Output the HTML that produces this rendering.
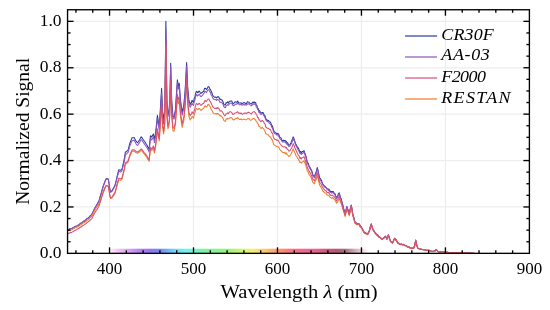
<!DOCTYPE html><html><head><meta charset="utf-8"><style>html,body{margin:0;padding:0;background:#fff;}svg{display:block;}text{font-family:"Liberation Serif",serif;fill:#000;}</style></head><body>
<svg width="550" height="310" viewBox="0 0 550 310">
<defs><linearGradient id="sp" x1="110.38" x2="368.17" y1="0" y2="0" gradientUnits="userSpaceOnUse"><stop offset="0.0000" stop-color="#ffffff"/>
<stop offset="0.0033" stop-color="#fde8fa"/>
<stop offset="0.0293" stop-color="#f4c4f4"/>
<stop offset="0.0619" stop-color="#e0a8f4"/>
<stop offset="0.0945" stop-color="#c890f4"/>
<stop offset="0.1270" stop-color="#a87af4"/>
<stop offset="0.1596" stop-color="#8c78f4"/>
<stop offset="0.1922" stop-color="#7888f4"/>
<stop offset="0.2085" stop-color="#70a0f4"/>
<stop offset="0.2248" stop-color="#6cb8f4"/>
<stop offset="0.2573" stop-color="#6ce0f4"/>
<stop offset="0.2899" stop-color="#70f4ec"/>
<stop offset="0.3225" stop-color="#70f4d0"/>
<stop offset="0.3550" stop-color="#78f4b0"/>
<stop offset="0.3876" stop-color="#80f49c"/>
<stop offset="0.4202" stop-color="#8cf488"/>
<stop offset="0.4528" stop-color="#98f47c"/>
<stop offset="0.4853" stop-color="#b8f474"/>
<stop offset="0.5179" stop-color="#d8f470"/>
<stop offset="0.5505" stop-color="#f4f070"/>
<stop offset="0.5831" stop-color="#fcd870"/>
<stop offset="0.6156" stop-color="#fcb870"/>
<stop offset="0.6482" stop-color="#fc9c74"/>
<stop offset="0.6808" stop-color="#fc8078"/>
<stop offset="0.7134" stop-color="#fc6c88"/>
<stop offset="0.7459" stop-color="#f86490"/>
<stop offset="0.7785" stop-color="#ec6490"/>
<stop offset="0.8111" stop-color="#e06088"/>
<stop offset="0.8436" stop-color="#c85880"/>
<stop offset="0.8762" stop-color="#b05878"/>
<stop offset="0.9088" stop-color="#a86880"/>
<stop offset="0.9414" stop-color="#c8a0b0"/>
<stop offset="0.9739" stop-color="#e8d0d8"/>
<stop offset="1.0000" stop-color="#ffffff"/></linearGradient>
<clipPath id="ax"><rect x="67.55" y="9.75" width="461.85" height="243.60"/></clipPath></defs>
<rect width="550" height="310" fill="#fff"/>
<g stroke="#ededed" stroke-width="1.25"><line x1="109.54" y1="9.75" x2="109.54" y2="253.35"/><line x1="193.51" y1="9.75" x2="193.51" y2="253.35"/><line x1="277.48" y1="9.75" x2="277.48" y2="253.35"/><line x1="361.45" y1="9.75" x2="361.45" y2="253.35"/><line x1="445.43" y1="9.75" x2="445.43" y2="253.35"/><line x1="67.55" y1="206.95" x2="529.4" y2="206.95"/><line x1="67.55" y1="160.55" x2="529.4" y2="160.55"/><line x1="67.55" y1="114.15" x2="529.4" y2="114.15"/><line x1="67.55" y1="67.75" x2="529.4" y2="67.75"/><line x1="67.55" y1="21.35" x2="529.4" y2="21.35"/></g>
<rect x="110.38" y="248.71" width="257.80" height="4.64" fill="url(#sp)"/>
<g clip-path="url(#ax)" fill="none" stroke-width="1.05" stroke-linejoin="round">
<polyline stroke="#263b9c" points="63.35,232.24 64.19,231.82 65.03,231.40 65.87,230.99 66.71,230.57 67.55,230.15 68.39,229.50 69.23,229.37 70.07,228.76 70.76,228.66 71.45,228.66 72.15,228.27 72.84,227.83 73.62,227.41 74.39,226.93 75.17,226.32 75.95,226.21 76.87,225.89 77.79,225.31 78.72,224.98 79.64,224.12 80.40,223.24 81.15,223.31 81.91,222.56 82.67,222.03 83.59,221.24 84.51,221.21 85.44,219.92 86.36,219.48 87.12,218.33 87.87,218.47 88.63,217.45 89.38,216.93 90.22,215.67 91.06,215.30 91.90,214.00 92.74,212.52 93.62,210.70 94.51,208.57 95.32,207.28 96.13,205.96 96.94,204.63 97.74,203.10 98.54,201.85 99.21,200.13 99.88,197.67 100.64,195.16 101.39,192.57 102.31,189.22 103.24,186.07 104.04,183.87 104.83,181.66 105.51,180.17 106.18,178.65 106.88,178.64 107.58,178.69 108.28,179.11 109.12,183.75 109.79,188.85 110.63,191.87 111.34,191.28 112.06,190.71 112.90,189.09 113.60,187.92 114.29,186.51 114.99,185.14 115.62,182.53 116.25,180.27 117.09,176.33 117.93,173.08 118.77,169.83 119.61,170.04 120.45,170.29 121.12,169.92 121.80,169.60 122.47,167.01 123.14,164.03 123.81,161.00 124.48,158.23 125.32,152.20 126.00,151.74 126.67,151.50 127.34,150.61 128.01,150.11 128.68,147.95 129.35,145.15 130.03,142.69 130.70,141.32 131.37,139.41 132.04,137.81 132.74,137.76 133.44,137.74 134.14,137.58 134.81,138.80 135.48,139.90 136.18,141.36 136.88,142.01 137.58,142.69 138.26,141.76 138.93,140.78 139.60,139.90 140.40,138.17 141.19,136.89 142.08,137.90 142.96,139.21 143.63,140.04 144.30,141.29 144.97,141.99 145.67,143.24 146.37,144.28 147.07,145.24 147.74,146.80 148.42,147.63 149.09,149.41 149.76,142.25 150.43,135.73 151.10,135.99 151.77,137.12 152.57,135.48 153.37,133.87 153.92,136.48 154.46,139.90 155.18,135.55 155.89,130.39 156.65,122.85 157.40,115.31 157.95,118.79 158.49,122.27 159.25,126.91 159.79,118.21 160.34,109.51 160.97,98.84 161.60,88.17 162.10,100.00 162.61,111.83 163.11,115.89 163.61,119.95 164.20,114.73 164.79,109.51 165.34,65.43 165.88,21.35 166.39,60.79 166.89,100.23 167.39,107.19 167.90,114.15 168.40,112.76 168.91,111.37 169.37,105.80 169.83,100.23 170.67,63.34 171.17,81.79 171.68,100.23 172.31,108.35 172.94,116.47 173.48,116.70 174.03,116.93 174.74,113.22 175.45,109.51 176.10,99.61 176.74,89.71 177.39,79.81 177.89,83.06 178.39,86.31 179.23,83.29 179.86,91.76 180.49,100.23 181.33,106.38 182.17,112.53 183.01,108.70 183.85,104.87 184.48,97.91 185.11,90.95 185.87,76.68 186.62,62.41 187.13,74.36 187.63,86.31 188.26,93.27 188.89,100.23 189.52,102.32 190.15,104.41 190.79,103.01 191.44,102.49 192.08,100.23 192.80,101.48 193.51,102.32 194.20,98.71 194.89,97.12 195.59,93.58 196.28,91.41 196.95,91.62 197.62,92.81 198.30,92.29 198.97,91.04 199.64,91.41 200.31,93.07 200.98,93.50 201.65,92.45 202.33,92.49 203.00,91.41 203.70,91.41 204.40,88.76 205.10,88.17 205.77,88.50 206.44,89.56 207.25,88.52 208.06,86.74 208.88,86.77 209.67,88.52 210.47,89.56 211.17,91.36 211.87,92.65 212.57,94.89 213.47,96.55 214.36,97.20 215.26,96.98 215.95,97.32 216.64,97.98 217.34,96.77 218.03,96.98 218.70,96.75 219.37,98.37 220.04,99.56 220.72,99.20 221.39,99.77 222.23,100.28 223.07,102.03 223.91,104.35 224.75,105.10 225.42,104.86 226.09,102.64 226.76,103.01 227.59,101.87 228.41,103.14 229.23,101.56 230.05,101.25 230.88,100.93 231.77,100.99 232.67,103.43 233.56,103.71 234.39,102.53 235.21,101.86 236.03,101.90 236.86,102.38 237.68,100.93 238.57,102.81 239.47,103.04 240.37,103.01 241.10,102.87 241.84,103.95 242.58,103.80 243.32,102.66 244.06,102.55 244.88,103.11 245.71,103.41 246.53,103.46 247.35,101.68 248.18,102.09 249.07,102.24 249.97,103.58 250.86,103.71 251.53,104.00 252.21,102.66 252.88,102.09 253.55,102.47 254.22,101.76 254.89,102.78 255.56,102.45 256.24,104.72 256.91,105.57 257.61,108.39 258.31,108.59 259.01,110.90 259.68,110.79 260.35,112.04 261.02,112.99 261.69,112.73 262.37,112.56 263.04,112.53 263.71,114.04 264.38,115.08 265.08,115.88 265.78,118.53 266.48,119.25 267.15,119.94 267.82,120.57 268.50,120.41 269.39,121.71 270.29,121.99 271.18,123.89 271.65,125.59 272.11,125.52 272.78,127.20 273.45,130.00 274.12,131.55 274.82,132.08 275.52,132.84 276.22,132.94 276.89,134.11 277.57,133.50 278.24,133.64 278.91,134.77 279.58,136.85 280.25,137.58 280.95,137.65 281.64,139.95 282.33,140.40 283.02,140.37 283.70,140.31 284.37,140.86 285.04,140.37 285.71,141.56 286.38,141.36 287.05,142.92 287.75,142.67 288.45,145.18 289.15,145.01 289.83,144.79 290.50,143.51 291.17,142.45 291.84,140.41 292.51,138.71 293.18,136.89 293.86,138.32 294.53,140.39 295.20,142.45 295.90,144.45 296.60,145.19 297.30,147.09 297.97,147.66 298.64,148.57 299.31,150.57 299.99,152.08 300.66,151.47 301.33,153.13 302.23,151.41 303.12,151.36 304.02,150.57 304.65,152.67 305.28,154.05 305.95,156.38 306.62,159.07 307.29,162.17 308.22,163.28 309.14,165.90 310.06,167.51 310.96,169.16 311.85,170.96 312.75,174.47 313.63,175.84 314.51,176.33 315.41,173.60 316.31,171.55 317.20,167.51 317.98,170.11 318.77,174.26 319.55,177.72 320.45,178.68 321.34,180.22 322.24,182.59 322.93,184.50 323.62,185.07 324.32,185.95 325.01,186.30 325.93,187.36 326.86,188.36 327.78,188.85 328.68,189.21 329.57,190.19 330.47,191.41 331.17,191.42 331.87,191.68 332.57,191.41 333.24,191.47 333.91,192.80 334.81,193.51 335.70,195.87 336.60,197.67 337.49,196.42 338.39,193.67 339.29,192.80 340.21,196.75 341.13,198.62 342.06,202.31 342.83,204.98 343.61,208.92 344.39,210.90 345.16,213.91 346.00,210.05 346.84,206.49 347.66,209.05 348.47,211.05 349.28,213.91 349.92,210.72 350.57,207.32 351.21,205.09 351.88,208.41 352.55,212.58 353.23,215.77 353.87,217.66 354.51,220.99 355.16,222.49 355.86,222.62 356.56,223.18 357.26,223.89 357.93,223.55 358.60,223.73 359.27,223.89 360.17,225.53 361.06,226.70 361.96,228.06 362.85,229.50 363.75,231.53 364.65,232.70 365.40,232.63 366.16,233.30 366.91,233.31 367.67,234.09 368.28,232.81 368.90,231.57 369.52,230.15 370.40,226.43 371.28,223.89 372.08,226.48 372.87,228.76 373.60,230.35 374.33,231.06 375.06,232.70 375.90,233.49 376.74,234.67 377.58,234.87 378.42,236.18 379.28,237.07 380.14,237.28 381.00,238.19 381.86,238.97 382.72,238.48 383.58,238.08 384.44,237.05 385.30,236.18 386.10,237.18 386.90,238.97 387.65,236.70 388.41,234.79 389.17,237.25 389.92,239.63 390.68,241.52 391.52,241.88 392.36,242.91 393.14,241.76 393.92,239.39 394.71,238.27 395.42,239.38 396.14,239.59 396.85,241.11 397.56,242.21 398.21,243.46 398.85,243.34 399.49,244.30 400.25,244.24 401.01,244.07 401.76,244.11 402.52,244.64 403.27,244.30 404.05,244.89 404.83,245.31 405.60,245.51 406.38,245.69 407.28,246.59 408.19,247.18 409.09,246.93 409.99,247.78 410.89,248.52 411.80,248.07 412.70,248.13 413.60,248.25 414.15,246.97 414.69,245.69 415.20,242.91 415.70,240.13 416.20,242.45 416.71,244.77 417.25,246.51 417.80,248.25 418.56,248.48 419.31,248.71 420.07,248.94 420.82,249.17 421.68,249.33 422.53,249.48 423.38,249.64 424.24,249.79 425.09,249.95 425.95,250.10 426.72,250.16 427.50,250.22 428.28,250.28 429.05,250.33 429.83,250.62 430.61,250.91 431.38,251.20 432.16,251.49 432.94,251.32 433.71,251.15 434.49,250.97 435.27,250.80 435.77,250.10 436.27,249.41 436.86,250.22 437.45,251.03 438.09,251.42 438.74,251.80 439.38,252.19 440.16,252.02 440.93,251.84 441.71,251.67 442.49,251.49 443.38,251.73 444.28,251.96 445.18,252.19 446.08,252.25 446.98,252.31 447.88,252.36 448.79,252.42 449.69,252.45 450.59,252.48 451.49,252.51 452.40,252.54 453.30,252.57 454.20,252.60 455.11,252.62 456.01,252.65 456.88,252.68 457.76,252.71 458.64,252.73 459.52,252.76 460.39,252.78 461.27,252.81 462.15,252.83 463.02,252.86 463.90,252.89 464.74,252.92 465.58,252.96 466.42,252.99 467.26,253.03 468.10,253.06 468.94,253.09 469.78,253.13 470.62,253.16 471.46,253.20 472.30,253.23 473.14,253.31 473.98,253.38 474.82,253.45 475.66,253.52 476.50,253.60 477.34,253.67 478.18,253.74 479.02,253.81"/>
<polyline stroke="#9052be" points="63.35,232.25 64.19,231.83 65.03,231.42 65.87,231.00 66.71,230.58 67.55,230.17 68.39,229.41 69.23,229.29 70.07,228.78 70.76,228.68 71.45,228.57 72.15,228.34 72.84,227.86 73.62,227.56 74.39,226.88 75.17,226.43 75.95,226.25 76.87,225.97 77.79,225.51 78.72,224.97 79.64,224.18 80.40,223.26 81.15,223.19 81.91,222.66 82.67,222.10 83.59,221.03 84.51,221.34 85.44,220.13 86.36,219.57 87.12,218.80 87.87,218.52 88.63,217.80 89.38,217.04 90.22,216.10 91.06,215.42 91.90,214.25 92.74,212.65 93.62,210.79 94.51,208.73 95.32,207.41 96.13,206.12 96.94,204.81 97.74,203.51 98.54,202.05 99.21,200.19 99.88,197.90 100.64,195.49 101.39,192.82 102.31,189.62 103.24,186.36 104.04,184.20 104.83,181.99 105.51,180.58 106.18,178.99 106.88,178.97 107.58,179.00 108.28,179.47 109.12,184.10 109.79,189.20 110.63,192.28 111.34,191.86 112.06,191.26 112.90,189.73 113.60,188.58 114.29,187.34 114.99,186.04 115.62,183.54 116.25,181.37 117.09,177.58 117.93,174.58 118.77,171.40 119.61,171.46 120.45,172.00 121.12,171.84 121.80,171.38 122.47,168.69 123.14,166.00 123.81,163.09 124.48,160.41 125.32,154.56 126.00,154.35 126.67,153.95 127.34,152.88 128.01,152.59 128.68,150.38 129.35,147.41 130.03,145.34 130.70,143.79 131.37,142.39 132.04,140.59 132.74,140.47 133.44,140.28 134.14,140.36 134.81,141.59 135.48,142.62 136.18,144.06 136.88,144.82 137.58,145.34 138.26,144.47 138.93,143.31 139.60,142.62 140.40,140.83 141.19,139.68 142.08,140.38 142.96,141.95 143.63,142.69 144.30,143.95 144.97,144.66 145.67,145.98 146.37,146.80 147.07,147.83 147.74,149.36 148.42,150.29 149.09,151.91 149.76,145.11 150.43,138.55 151.10,138.79 151.77,139.91 152.57,138.37 153.37,136.74 153.92,139.46 154.46,142.65 155.18,138.34 155.89,133.39 156.65,126.05 157.40,118.71 157.95,122.11 158.49,125.52 159.25,130.06 159.79,121.59 160.34,113.21 160.97,102.98 161.60,92.77 162.10,104.40 162.61,116.01 163.11,120.07 163.61,124.12 164.20,119.21 164.79,114.30 165.34,71.86 165.88,29.32 166.39,66.63 166.89,104.26 167.39,110.45 167.90,116.70 168.40,114.87 168.91,113.51 169.37,108.04 169.83,102.57 170.67,66.28 171.17,84.46 171.68,102.63 172.31,110.64 172.94,118.65 173.48,118.89 174.03,119.13 174.74,115.50 175.45,111.87 176.10,102.15 176.74,92.44 177.39,82.73 177.89,85.94 178.39,89.15 179.23,86.21 179.86,94.56 180.49,102.90 181.33,108.96 182.17,115.03 183.01,111.29 183.85,107.56 184.48,100.74 185.11,93.93 185.87,79.95 186.62,65.97 187.13,77.72 187.63,89.46 188.26,96.30 188.89,103.15 189.52,105.22 190.15,107.29 190.79,105.94 191.44,105.01 192.08,103.25 192.80,104.87 193.51,105.34 194.20,101.80 194.89,99.85 195.59,96.84 196.28,94.60 196.95,94.86 197.62,95.94 198.30,95.23 198.97,94.19 199.64,94.53 200.31,96.24 200.98,96.56 201.65,96.14 202.33,95.45 203.00,94.47 203.70,93.71 204.40,92.33 205.10,91.24 205.77,91.70 206.44,92.58 207.25,91.03 208.06,89.71 208.88,89.80 209.67,91.63 210.47,92.50 211.17,94.98 211.87,95.63 212.57,97.70 213.47,98.97 214.36,99.43 215.26,99.70 215.95,99.38 216.64,100.45 217.34,99.52 218.03,99.65 218.70,100.13 219.37,101.00 220.04,102.40 220.72,102.30 221.39,102.33 222.23,103.03 223.07,104.36 223.91,106.88 224.75,107.52 225.42,107.74 226.09,105.73 226.76,105.43 227.59,104.61 228.41,105.23 229.23,104.21 230.05,103.24 230.88,103.19 231.77,103.18 232.67,105.00 233.56,105.82 234.39,105.40 235.21,104.41 236.03,103.84 236.86,104.33 237.68,102.88 238.57,103.92 239.47,104.80 240.37,104.83 241.10,103.97 241.84,105.16 242.58,104.95 243.32,105.00 244.06,104.21 244.88,105.08 245.71,104.39 246.53,105.10 247.35,104.25 248.18,103.75 249.07,104.11 249.97,104.85 250.86,105.36 251.53,105.84 252.21,104.97 252.88,103.75 253.55,104.27 254.22,103.60 254.89,104.44 255.56,104.40 256.24,106.98 256.91,107.19 257.61,109.37 258.31,110.24 259.01,112.47 259.68,112.36 260.35,114.11 261.02,114.53 261.69,113.83 262.37,113.20 263.04,114.08 263.71,115.21 264.38,116.60 265.08,117.66 265.78,120.19 266.48,120.73 267.15,121.53 267.82,121.84 268.50,121.88 269.39,123.62 270.29,123.99 271.18,125.38 271.65,127.28 272.11,127.02 272.78,128.79 273.45,131.52 274.12,133.04 274.82,133.47 275.52,133.86 276.22,134.47 276.89,135.23 277.57,134.49 278.24,135.20 278.91,136.61 279.58,138.12 280.25,139.11 280.95,139.18 281.64,140.69 282.33,141.76 283.02,141.87 283.70,141.77 284.37,142.13 285.04,141.89 285.71,142.99 286.38,143.37 287.05,144.42 287.75,145.04 288.45,146.01 289.15,146.49 289.83,146.25 290.50,145.09 291.17,143.99 291.84,142.45 292.51,140.98 293.18,138.51 293.86,140.45 294.53,141.09 295.20,144.01 295.90,145.66 296.60,146.43 297.30,148.60 297.97,149.40 298.64,150.49 299.31,152.04 299.99,153.58 300.66,153.61 301.33,154.57 302.23,153.50 303.12,152.82 304.02,152.07 304.65,154.07 305.28,155.51 305.95,157.54 306.62,160.34 307.29,163.52 308.22,164.70 309.14,167.19 310.06,168.79 310.96,169.90 311.85,172.34 312.75,175.65 313.63,177.04 314.51,177.48 315.41,174.58 316.31,172.71 317.20,168.80 317.98,171.01 318.77,174.71 319.55,178.85 320.45,180.38 321.34,181.57 322.24,183.65 322.93,184.77 323.62,185.47 324.32,187.08 325.01,187.31 325.93,187.77 326.86,189.35 327.78,189.82 328.68,190.47 329.57,191.93 330.47,192.34 331.17,192.49 331.87,193.24 332.57,192.34 333.24,192.36 333.91,193.71 334.81,194.59 335.70,196.49 336.60,198.49 337.49,197.01 338.39,194.92 339.29,193.57 340.21,197.49 341.13,199.11 342.06,202.86 342.83,205.65 343.61,208.46 344.39,211.23 345.16,214.24 346.00,210.43 346.84,206.82 347.66,209.30 348.47,211.24 349.28,214.12 349.92,211.62 350.57,207.35 351.21,205.34 351.88,208.36 352.55,213.29 353.23,215.95 353.87,217.76 354.51,220.26 355.16,222.65 355.86,222.95 356.56,223.22 357.26,224.03 357.93,223.85 358.60,223.76 359.27,224.03 360.17,225.81 361.06,226.75 361.96,228.19 362.85,230.09 363.75,231.68 364.65,232.81 365.40,233.03 366.16,233.62 366.91,233.71 367.67,234.19 368.28,232.96 368.90,231.76 369.52,230.27 370.40,226.62 371.28,224.03 372.08,227.04 372.87,228.88 373.60,230.48 374.33,231.50 375.06,232.81 375.90,233.97 376.74,234.55 377.58,234.84 378.42,236.27 379.28,236.85 380.14,237.21 381.00,238.22 381.86,239.04 382.72,238.73 383.58,238.03 384.44,237.37 385.30,236.27 386.10,237.21 386.90,239.04 387.65,236.99 388.41,234.88 389.17,237.24 389.92,239.63 390.68,241.58 391.52,241.63 392.36,242.96 393.14,241.46 393.92,239.45 394.71,238.35 395.42,239.56 396.14,239.75 396.85,241.05 397.56,242.27 398.21,243.13 398.85,243.06 399.49,244.35 400.25,244.40 401.01,244.37 401.76,244.26 402.52,244.80 403.27,244.35 404.05,245.24 404.83,245.15 405.60,245.52 406.38,245.73 407.28,246.65 408.19,247.21 409.09,246.88 409.99,247.81 410.89,248.44 411.80,248.09 412.70,248.16 413.60,248.27 414.15,247.00 414.69,245.73 415.20,242.96 415.70,240.19 416.20,242.50 416.71,244.81 417.25,246.54 417.80,248.27 418.56,248.50 419.31,248.73 420.07,248.96 420.82,249.19 421.68,249.35 422.53,249.50 423.38,249.66 424.24,249.81 425.09,249.96 425.95,250.12 426.72,250.18 427.50,250.23 428.28,250.29 429.05,250.35 429.83,250.64 430.61,250.93 431.38,251.21 432.16,251.50 432.94,251.33 433.71,251.16 434.49,250.98 435.27,250.81 435.77,250.12 436.27,249.43 436.86,250.23 437.45,251.04 438.09,251.43 438.74,251.81 439.38,252.20 440.16,252.02 440.93,251.85 441.71,251.68 442.49,251.50 443.38,251.73 444.28,251.96 445.18,252.20 446.08,252.25 446.98,252.31 447.88,252.37 448.79,252.43 449.69,252.46 450.59,252.48 451.49,252.51 452.40,252.54 453.30,252.57 454.20,252.60 455.11,252.63 456.01,252.66 456.88,252.68 457.76,252.71 458.64,252.73 459.52,252.76 460.39,252.79 461.27,252.81 462.15,252.84 463.02,252.86 463.90,252.89 464.74,252.92 465.58,252.96 466.42,252.99 467.26,253.03 468.10,253.06 468.94,253.10 469.78,253.13 470.62,253.17 471.46,253.20 472.30,253.23 473.14,253.31 473.98,253.38 474.82,253.45 475.66,253.52 476.50,253.60 477.34,253.67 478.18,253.74 479.02,253.81"/>
<polyline stroke="#f27b2a" points="63.35,233.28 64.19,232.88 65.03,232.48 65.87,232.08 66.71,231.68 67.55,231.28 68.39,230.37 69.23,230.21 70.07,229.95 70.76,229.88 71.45,229.91 72.15,229.61 72.84,229.06 73.62,228.69 74.39,228.35 75.17,227.71 75.95,227.50 76.87,227.02 77.79,226.88 78.72,226.07 79.64,225.50 80.40,224.69 81.15,224.88 81.91,224.01 82.67,223.50 83.59,222.70 84.51,222.62 85.44,221.68 86.36,221.05 87.12,220.06 87.87,220.03 88.63,219.32 89.38,218.60 90.22,217.53 91.06,217.04 91.90,215.84 92.74,214.38 93.62,212.55 94.51,210.60 95.32,209.29 96.13,208.02 96.94,206.82 97.74,205.54 98.54,204.56 99.21,202.77 99.88,200.97 100.64,198.73 101.39,196.62 102.31,193.80 103.24,191.16 104.04,189.28 104.83,187.64 105.51,186.63 106.18,185.37 106.88,185.66 107.58,185.84 108.28,186.41 109.12,190.83 109.79,195.58 110.63,198.49 111.34,198.24 112.06,197.81 112.90,196.58 113.60,195.61 114.29,194.71 114.99,193.31 115.62,191.21 116.25,189.00 117.09,185.51 117.93,182.73 118.77,179.75 119.61,179.93 120.45,180.13 121.12,179.96 121.80,179.49 122.47,177.06 123.14,174.55 123.81,171.71 124.48,169.40 125.32,164.06 126.00,163.76 126.67,163.42 127.34,162.63 128.01,162.19 128.68,160.28 129.35,157.69 130.03,155.63 130.70,154.36 131.37,152.92 132.04,151.33 132.74,151.18 133.44,151.33 134.14,151.13 134.81,151.72 135.48,152.20 136.18,152.89 136.88,153.04 137.58,153.20 138.26,152.55 138.93,152.27 139.60,151.95 140.40,150.91 141.19,150.28 142.08,151.07 142.96,152.33 143.63,152.98 144.30,154.31 144.97,154.80 145.67,155.85 146.37,156.72 147.07,157.67 147.74,159.09 148.42,160.01 149.09,161.37 149.76,155.13 150.43,149.25 151.10,149.48 151.77,150.48 152.57,149.16 153.37,147.61 153.92,150.00 154.46,152.95 155.18,148.91 155.89,144.51 156.65,137.71 157.40,130.91 157.95,133.91 158.49,136.91 159.25,140.92 159.79,133.10 160.34,125.26 160.97,115.64 161.60,106.01 162.10,116.47 162.61,126.94 163.11,130.49 163.61,134.04 164.20,129.29 164.79,124.61 165.34,85.16 165.88,45.71 166.39,81.01 166.89,116.31 167.39,122.54 167.90,128.77 168.40,127.52 168.91,126.27 169.37,121.29 169.83,116.31 170.67,83.29 171.17,99.80 171.68,116.31 172.31,123.58 172.94,130.84 173.48,131.05 174.03,131.26 174.74,127.94 175.45,124.61 176.10,115.75 176.74,106.89 177.39,98.04 177.89,100.94 178.39,103.85 179.23,101.15 179.86,108.73 180.49,116.31 181.33,121.81 182.17,127.31 183.01,123.89 183.85,120.46 184.48,114.23 185.11,108.00 185.87,95.23 186.62,82.46 187.13,93.16 187.63,103.85 188.26,110.08 188.89,116.31 189.52,118.18 190.15,120.05 190.79,118.80 191.44,118.45 192.08,116.31 192.80,117.25 193.51,118.18 194.20,115.04 194.89,113.01 195.59,110.44 196.28,108.46 196.95,108.73 197.62,109.73 198.30,109.22 198.97,108.55 199.64,108.52 200.31,109.80 200.98,110.40 201.65,109.66 202.33,109.25 203.00,108.57 203.70,108.30 204.40,106.84 205.10,105.70 205.77,106.46 206.44,106.97 207.25,106.04 208.06,104.35 208.88,104.52 209.67,106.19 210.47,107.03 211.17,109.33 211.87,110.08 212.57,111.83 213.47,113.39 214.36,113.76 215.26,113.74 215.95,113.44 216.64,114.11 217.34,113.38 218.03,113.78 218.70,114.09 219.37,115.04 220.04,116.01 220.72,115.45 221.39,116.32 222.23,117.15 223.07,118.41 223.91,120.64 224.75,121.13 225.42,121.36 226.09,118.96 226.76,119.30 227.59,118.31 228.41,118.72 229.23,118.59 230.05,117.75 230.88,117.50 231.77,117.67 232.67,119.31 233.56,120.02 234.39,119.43 235.21,118.98 236.03,118.18 236.86,118.75 237.68,117.60 238.57,118.69 239.47,119.48 240.37,119.50 241.10,118.81 241.84,119.72 242.58,119.80 243.32,119.53 244.06,119.14 244.88,119.49 245.71,119.79 246.53,119.74 247.35,118.84 248.18,118.73 249.07,118.60 249.97,120.09 250.86,120.17 251.53,119.89 252.21,119.19 252.88,118.73 253.55,118.39 254.22,118.62 254.89,119.34 255.56,119.71 256.24,121.59 256.91,121.82 257.61,123.83 258.31,124.11 259.01,126.57 259.68,126.40 260.35,127.89 261.02,128.43 261.69,128.08 262.37,127.34 263.04,128.02 263.71,128.67 264.38,130.29 265.08,131.34 265.78,133.70 266.48,134.00 267.15,134.39 267.82,134.71 268.50,135.04 269.39,136.78 270.29,136.70 271.18,138.13 271.65,139.60 272.11,139.58 272.78,141.09 273.45,144.13 274.12,144.95 274.82,145.27 275.52,145.86 276.22,146.19 276.89,146.62 277.57,146.80 278.24,146.77 278.91,147.45 279.58,149.08 280.25,150.17 280.95,150.55 281.64,151.45 282.33,152.20 283.02,152.51 283.70,152.40 284.37,153.02 285.04,152.41 285.71,153.95 286.38,153.05 287.05,154.59 287.75,154.88 288.45,156.33 289.15,156.36 289.83,156.05 290.50,154.74 291.17,153.97 291.84,152.35 292.51,150.62 293.18,148.88 293.86,150.88 294.53,151.54 295.20,153.78 295.90,155.68 296.60,155.93 297.30,157.84 297.97,158.76 298.64,159.87 299.31,160.88 299.99,162.62 300.66,161.96 301.33,163.08 302.23,162.00 303.12,161.60 304.02,160.66 304.65,162.57 305.28,163.74 305.95,165.91 306.62,168.19 307.29,170.99 308.22,172.22 309.14,174.76 310.06,175.70 310.96,176.97 311.85,179.51 312.75,181.99 313.63,183.15 314.51,183.69 315.41,180.65 316.31,179.39 317.20,175.76 317.98,178.38 318.77,181.70 319.55,185.02 320.45,186.32 321.34,188.04 322.24,189.46 322.93,191.18 323.62,191.47 324.32,192.67 325.01,192.85 325.93,193.33 326.86,194.74 327.78,195.18 328.68,195.31 329.57,196.62 330.47,197.51 331.17,197.70 331.87,198.51 332.57,197.54 333.24,197.96 333.91,198.81 334.81,199.93 335.70,201.48 336.60,203.22 337.49,202.47 338.39,200.01 339.29,198.46 340.21,201.32 341.13,203.45 342.06,206.40 342.83,208.84 343.61,211.32 344.39,214.11 345.16,216.48 346.00,212.96 346.84,209.15 347.66,211.50 348.47,212.89 349.28,215.69 349.92,212.77 350.57,209.61 351.21,206.82 351.88,209.77 352.55,214.74 353.23,217.08 353.87,219.25 354.51,221.51 355.16,223.57 355.86,224.04 356.56,224.60 357.26,224.92 357.93,224.52 358.60,223.85 359.27,224.92 360.17,226.97 361.06,227.29 361.96,228.95 362.85,230.52 363.75,232.37 364.65,233.42 365.40,233.34 366.16,234.22 366.91,233.90 367.67,234.77 368.28,233.66 368.90,232.18 369.52,230.96 370.40,227.41 371.28,224.92 372.08,227.64 372.87,229.62 373.60,231.20 374.33,231.97 375.06,233.42 375.90,234.23 376.74,235.44 377.58,235.60 378.42,236.78 379.28,237.41 380.14,237.55 381.00,238.82 381.86,239.47 382.72,239.08 383.58,238.30 384.44,237.77 385.30,236.78 386.10,237.94 386.90,239.47 387.65,237.42 388.41,235.44 389.17,237.95 389.92,239.82 390.68,241.93 391.52,242.26 392.36,243.28 393.14,242.08 393.92,240.09 394.71,238.80 395.42,240.19 396.14,240.07 396.85,241.53 397.56,242.60 398.21,243.53 398.85,243.35 399.49,244.62 400.25,244.88 401.01,244.19 401.76,244.40 402.52,244.98 403.27,244.62 404.05,245.27 404.83,245.81 405.60,245.79 406.38,245.96 407.28,247.04 408.19,247.36 409.09,247.27 409.99,247.98 410.89,248.68 411.80,248.13 412.70,248.31 413.60,248.42 414.15,247.19 414.69,245.96 415.20,243.28 415.70,240.59 416.20,242.83 416.71,245.07 417.25,246.75 417.80,248.42 418.56,248.65 419.31,248.87 420.07,249.10 420.82,249.32 421.68,249.47 422.53,249.62 423.38,249.77 424.24,249.92 425.09,250.07 425.95,250.22 426.72,250.27 427.50,250.33 428.28,250.38 429.05,250.44 429.83,250.72 430.61,251.00 431.38,251.28 432.16,251.56 432.94,251.39 433.71,251.22 434.49,251.06 435.27,250.89 435.77,250.22 436.27,249.54 436.86,250.33 437.45,251.11 438.09,251.48 438.74,251.86 439.38,252.23 440.16,252.06 440.93,251.89 441.71,251.73 442.49,251.56 443.38,251.78 444.28,252.01 445.18,252.23 446.08,252.29 446.98,252.34 447.88,252.40 448.79,252.45 449.69,252.48 450.59,252.51 451.49,252.54 452.40,252.57 453.30,252.59 454.20,252.62 455.11,252.65 456.01,252.68 456.88,252.70 457.76,252.73 458.64,252.75 459.52,252.78 460.39,252.80 461.27,252.83 462.15,252.85 463.02,252.88 463.90,252.90 464.74,252.94 465.58,252.97 466.42,253.00 467.26,253.04 468.10,253.07 468.94,253.10 469.78,253.14 470.62,253.17 471.46,253.20 472.30,253.24 473.14,253.31 473.98,253.38 474.82,253.45 475.66,253.52 476.50,253.59 477.34,253.66 478.18,253.73 479.02,253.80"/>
<polyline stroke="#d74f74" points="63.35,236.14 64.19,235.74 65.03,235.33 65.87,234.92 66.71,234.51 67.55,234.09 68.39,233.29 69.23,233.25 70.07,232.70 70.76,232.27 71.45,232.60 72.15,232.14 72.84,231.65 73.62,231.25 74.39,230.60 75.17,230.30 75.95,229.95 76.87,229.34 77.79,228.94 78.72,228.54 79.64,227.76 80.40,226.98 81.15,227.13 81.91,226.35 82.67,225.79 83.59,225.09 84.51,224.70 85.44,223.93 86.36,223.36 87.12,222.31 87.87,222.21 88.63,221.37 89.38,220.93 90.22,220.03 91.06,219.39 91.90,218.49 92.74,216.81 93.62,214.96 94.51,213.22 95.32,211.98 96.13,210.61 96.94,209.59 97.74,208.37 98.54,207.03 99.21,205.30 99.88,203.22 100.64,200.73 101.39,198.56 102.31,195.66 103.24,192.61 104.04,190.74 104.83,188.54 105.51,187.36 106.18,185.74 106.88,185.68 107.58,185.90 108.28,186.24 109.12,190.46 109.79,195.10 110.63,197.85 111.34,197.41 112.06,196.84 112.90,195.41 113.60,194.23 114.29,193.17 114.99,191.92 115.62,189.82 116.25,187.58 117.09,184.06 117.93,181.22 118.77,178.29 119.61,178.33 120.45,178.77 121.12,178.69 121.80,178.20 122.47,175.81 123.14,173.27 123.81,170.56 124.48,168.13 125.32,162.77 126.00,162.48 126.67,162.20 127.34,161.41 128.01,160.95 128.68,158.91 129.35,156.32 130.03,154.31 130.70,152.75 131.37,151.50 132.04,149.95 132.74,149.74 133.44,149.91 134.14,149.74 134.81,150.38 135.48,150.93 136.18,151.74 136.88,151.80 137.58,152.09 138.26,151.51 138.93,151.01 139.60,150.68 140.40,149.69 141.19,148.88 142.08,149.47 142.96,150.92 143.63,151.66 144.30,152.90 144.97,153.37 145.67,154.42 146.37,155.10 147.07,156.24 147.74,157.51 148.42,158.39 149.09,159.95 149.76,153.66 150.43,147.62 151.10,147.97 151.77,148.84 152.57,147.47 153.37,145.88 153.92,148.27 154.46,151.28 155.18,147.06 155.89,142.65 156.65,135.68 157.40,128.70 157.95,131.71 158.49,134.73 159.25,138.76 159.79,130.74 160.34,122.71 160.97,112.84 161.60,102.95 162.10,113.58 162.61,124.24 163.11,127.82 163.61,131.41 164.20,126.51 164.79,121.71 165.34,81.35 165.88,40.97 166.39,77.05 166.89,113.14 167.39,119.50 167.90,125.86 168.40,124.56 168.91,123.27 169.37,118.16 169.83,113.04 170.67,79.20 171.17,96.08 171.68,112.97 172.31,120.39 172.94,127.82 173.48,128.01 174.03,128.21 174.74,124.78 175.45,121.35 176.10,112.24 176.74,103.13 177.39,94.02 177.89,96.98 178.39,99.94 179.23,97.14 179.86,104.89 180.49,112.65 181.33,118.27 182.17,123.89 183.01,120.34 183.85,116.79 184.48,110.37 185.11,103.94 185.87,90.74 186.62,77.52 187.13,88.47 187.63,99.42 188.26,105.78 188.89,112.14 189.52,114.00 190.15,115.87 190.79,114.53 191.44,114.05 192.08,111.84 192.80,113.04 193.51,113.65 194.20,110.72 194.89,108.33 195.59,105.47 196.28,103.51 196.95,103.69 197.62,104.78 198.30,104.23 198.97,103.30 199.64,103.46 200.31,105.00 200.98,105.37 201.65,104.54 202.33,104.25 203.00,103.41 203.70,103.46 204.40,101.22 205.10,100.36 205.77,101.18 206.44,101.63 207.25,100.03 208.06,98.96 208.88,99.01 209.67,100.93 210.47,101.57 211.17,103.21 211.87,104.90 212.57,106.48 213.47,107.26 214.36,108.19 215.26,108.37 215.95,108.01 216.64,108.62 217.34,107.48 218.03,108.33 218.70,108.00 219.37,109.60 220.04,111.14 220.72,110.83 221.39,110.86 222.23,111.60 223.07,113.02 223.91,114.73 224.75,115.76 225.42,115.57 226.09,113.73 226.76,113.79 227.59,112.83 228.41,113.65 229.23,112.27 230.05,111.66 230.88,111.79 231.77,112.57 232.67,114.35 233.56,114.34 234.39,113.44 235.21,113.01 236.03,112.76 236.86,112.47 237.68,111.69 238.57,113.16 239.47,112.90 240.37,113.59 241.10,112.83 241.84,114.04 242.58,114.33 243.32,113.49 244.06,113.09 244.88,113.37 245.71,112.90 246.53,113.78 247.35,112.82 248.18,112.39 249.07,112.31 249.97,113.08 250.86,113.72 251.53,114.10 252.21,112.57 252.88,112.07 253.55,111.84 254.22,111.57 254.89,112.58 255.56,112.80 256.24,114.67 256.91,115.05 257.61,117.54 258.31,117.48 259.01,119.91 259.68,120.03 260.35,121.36 261.02,121.74 261.69,120.74 262.37,120.43 263.04,121.18 263.71,121.74 264.38,123.49 265.08,123.91 265.78,127.13 266.48,127.29 267.15,128.34 267.82,128.22 268.50,128.26 269.39,129.55 270.29,129.36 271.18,131.38 271.65,132.71 272.11,132.86 272.78,134.03 273.45,137.55 274.12,138.43 274.82,139.30 275.52,139.51 276.22,139.63 276.89,140.53 277.57,140.15 278.24,140.24 278.91,141.79 279.58,143.14 280.25,144.00 280.95,144.74 281.64,145.82 282.33,146.07 283.02,146.67 283.70,146.96 284.37,146.77 285.04,146.71 285.71,147.87 286.38,147.30 287.05,149.15 287.75,149.10 288.45,150.79 289.15,151.15 289.83,150.71 290.50,149.61 291.17,148.78 291.84,147.40 292.51,145.73 293.18,143.56 293.86,145.10 294.53,146.59 295.20,148.85 295.90,150.14 296.60,151.22 297.30,153.25 297.97,154.52 298.64,155.32 299.31,156.56 299.99,158.45 300.66,157.48 301.33,158.99 302.23,157.67 303.12,157.36 304.02,156.63 304.65,158.81 305.28,159.93 305.95,162.56 306.62,164.75 307.29,167.59 308.22,169.28 309.14,171.44 310.06,172.65 310.96,174.39 311.85,176.32 312.75,179.20 313.63,179.78 314.51,180.95 315.41,178.16 316.31,175.71 317.20,172.66 317.98,175.52 318.77,178.53 319.55,182.26 320.45,183.48 321.34,184.49 322.24,186.84 322.93,187.79 323.62,188.86 324.32,189.60 325.01,190.32 325.93,190.54 326.86,192.33 327.78,192.72 328.68,192.50 329.57,193.98 330.47,195.12 331.17,195.22 331.87,195.58 332.57,195.12 333.24,195.79 333.91,196.43 334.81,197.53 335.70,198.95 336.60,201.01 337.49,199.81 338.39,197.64 339.29,196.16 340.21,199.87 341.13,201.56 342.06,204.67 342.83,207.53 343.61,210.54 344.39,212.72 345.16,215.32 346.00,211.85 346.84,207.90 347.66,210.24 348.47,212.01 349.28,214.78 349.92,211.87 350.57,208.08 351.21,205.84 351.88,209.14 352.55,213.87 353.23,216.33 353.87,218.63 354.51,220.58 355.16,222.96 355.86,223.39 356.56,223.88 357.26,224.33 357.93,224.04 358.60,223.61 359.27,224.33 360.17,226.87 361.06,226.61 361.96,228.44 362.85,230.19 363.75,232.10 364.65,233.01 365.40,233.21 366.16,233.59 366.91,233.93 367.67,234.38 368.28,232.92 368.90,231.88 369.52,230.50 370.40,227.12 371.28,224.33 372.08,227.12 372.87,229.13 373.60,231.00 374.33,231.77 375.06,233.01 375.90,233.94 376.74,234.88 377.58,235.05 378.42,236.44 379.28,237.45 380.14,237.49 381.00,238.27 381.86,239.18 382.72,238.89 383.58,238.29 384.44,237.26 385.30,236.44 386.10,237.52 386.90,239.18 387.65,237.29 388.41,235.07 389.17,237.55 389.92,239.72 390.68,241.70 391.52,241.81 392.36,243.07 393.14,241.65 393.92,239.58 394.71,238.50 395.42,239.84 396.14,240.19 396.85,241.31 397.56,242.38 398.21,243.52 398.85,243.36 399.49,244.44 400.25,244.48 401.01,243.98 401.76,244.25 402.52,245.02 403.27,244.44 404.05,244.92 404.83,245.35 405.60,245.87 406.38,245.81 407.28,246.61 408.19,247.26 409.09,246.91 409.99,247.87 410.89,248.31 411.80,248.28 412.70,248.21 413.60,248.32 414.15,247.07 414.69,245.81 415.20,243.07 415.70,240.32 416.20,242.61 416.71,244.89 417.25,246.61 417.80,248.32 418.56,248.55 419.31,248.78 420.07,249.01 420.82,249.24 421.68,249.39 422.53,249.54 423.38,249.69 424.24,249.85 425.09,250.00 425.95,250.15 426.72,250.21 427.50,250.26 428.28,250.32 429.05,250.38 429.83,250.66 430.61,250.95 431.38,251.24 432.16,251.52 432.94,251.35 433.71,251.18 434.49,251.01 435.27,250.84 435.77,250.15 436.27,249.47 436.86,250.26 437.45,251.06 438.09,251.45 438.74,251.83 439.38,252.21 440.16,252.04 440.93,251.86 441.71,251.69 442.49,251.52 443.38,251.75 444.28,251.98 445.18,252.21 446.08,252.26 446.98,252.32 447.88,252.38 448.79,252.44 449.69,252.46 450.59,252.49 451.49,252.52 452.40,252.55 453.30,252.58 454.20,252.61 455.11,252.64 456.01,252.66 456.88,252.69 457.76,252.72 458.64,252.74 459.52,252.77 460.39,252.79 461.27,252.82 462.15,252.84 463.02,252.87 463.90,252.89 464.74,252.93 465.58,252.96 466.42,253.00 467.26,253.03 468.10,253.06 468.94,253.10 469.78,253.13 470.62,253.17 471.46,253.20 472.30,253.24 473.14,253.31 473.98,253.38 474.82,253.45 475.66,253.52 476.50,253.59 477.34,253.66 478.18,253.74 479.02,253.81"/>
</g>
<g stroke="#000" stroke-width="1.35"><line x1="75.95" y1="253.35" x2="75.95" y2="250.35"/><line x1="75.95" y1="9.75" x2="75.95" y2="12.75"/><line x1="92.74" y1="253.35" x2="92.74" y2="250.35"/><line x1="92.74" y1="9.75" x2="92.74" y2="12.75"/><line x1="109.54" y1="253.35" x2="109.54" y2="247.35"/><line x1="109.54" y1="9.75" x2="109.54" y2="15.75"/><line x1="126.33" y1="253.35" x2="126.33" y2="250.35"/><line x1="126.33" y1="9.75" x2="126.33" y2="12.75"/><line x1="143.13" y1="253.35" x2="143.13" y2="250.35"/><line x1="143.13" y1="9.75" x2="143.13" y2="12.75"/><line x1="159.92" y1="253.35" x2="159.92" y2="250.35"/><line x1="159.92" y1="9.75" x2="159.92" y2="12.75"/><line x1="176.71" y1="253.35" x2="176.71" y2="250.35"/><line x1="176.71" y1="9.75" x2="176.71" y2="12.75"/><line x1="193.51" y1="253.35" x2="193.51" y2="247.35"/><line x1="193.51" y1="9.75" x2="193.51" y2="15.75"/><line x1="210.30" y1="253.35" x2="210.30" y2="250.35"/><line x1="210.30" y1="9.75" x2="210.30" y2="12.75"/><line x1="227.10" y1="253.35" x2="227.10" y2="250.35"/><line x1="227.10" y1="9.75" x2="227.10" y2="12.75"/><line x1="243.89" y1="253.35" x2="243.89" y2="250.35"/><line x1="243.89" y1="9.75" x2="243.89" y2="12.75"/><line x1="260.69" y1="253.35" x2="260.69" y2="250.35"/><line x1="260.69" y1="9.75" x2="260.69" y2="12.75"/><line x1="277.48" y1="253.35" x2="277.48" y2="247.35"/><line x1="277.48" y1="9.75" x2="277.48" y2="15.75"/><line x1="294.28" y1="253.35" x2="294.28" y2="250.35"/><line x1="294.28" y1="9.75" x2="294.28" y2="12.75"/><line x1="311.07" y1="253.35" x2="311.07" y2="250.35"/><line x1="311.07" y1="9.75" x2="311.07" y2="12.75"/><line x1="327.87" y1="253.35" x2="327.87" y2="250.35"/><line x1="327.87" y1="9.75" x2="327.87" y2="12.75"/><line x1="344.66" y1="253.35" x2="344.66" y2="250.35"/><line x1="344.66" y1="9.75" x2="344.66" y2="12.75"/><line x1="361.45" y1="253.35" x2="361.45" y2="247.35"/><line x1="361.45" y1="9.75" x2="361.45" y2="15.75"/><line x1="378.25" y1="253.35" x2="378.25" y2="250.35"/><line x1="378.25" y1="9.75" x2="378.25" y2="12.75"/><line x1="395.04" y1="253.35" x2="395.04" y2="250.35"/><line x1="395.04" y1="9.75" x2="395.04" y2="12.75"/><line x1="411.84" y1="253.35" x2="411.84" y2="250.35"/><line x1="411.84" y1="9.75" x2="411.84" y2="12.75"/><line x1="428.63" y1="253.35" x2="428.63" y2="250.35"/><line x1="428.63" y1="9.75" x2="428.63" y2="12.75"/><line x1="445.43" y1="253.35" x2="445.43" y2="247.35"/><line x1="445.43" y1="9.75" x2="445.43" y2="15.75"/><line x1="462.22" y1="253.35" x2="462.22" y2="250.35"/><line x1="462.22" y1="9.75" x2="462.22" y2="12.75"/><line x1="479.02" y1="253.35" x2="479.02" y2="250.35"/><line x1="479.02" y1="9.75" x2="479.02" y2="12.75"/><line x1="495.81" y1="253.35" x2="495.81" y2="250.35"/><line x1="495.81" y1="9.75" x2="495.81" y2="12.75"/><line x1="512.61" y1="253.35" x2="512.61" y2="250.35"/><line x1="512.61" y1="9.75" x2="512.61" y2="12.75"/><line x1="67.55" y1="241.75" x2="70.55" y2="241.75"/><line x1="529.4" y1="241.75" x2="526.4" y2="241.75"/><line x1="67.55" y1="230.15" x2="70.55" y2="230.15"/><line x1="529.4" y1="230.15" x2="526.4" y2="230.15"/><line x1="67.55" y1="218.55" x2="70.55" y2="218.55"/><line x1="529.4" y1="218.55" x2="526.4" y2="218.55"/><line x1="67.55" y1="206.95" x2="73.55" y2="206.95"/><line x1="529.4" y1="206.95" x2="523.4" y2="206.95"/><line x1="67.55" y1="195.35" x2="70.55" y2="195.35"/><line x1="529.4" y1="195.35" x2="526.4" y2="195.35"/><line x1="67.55" y1="183.75" x2="70.55" y2="183.75"/><line x1="529.4" y1="183.75" x2="526.4" y2="183.75"/><line x1="67.55" y1="172.15" x2="70.55" y2="172.15"/><line x1="529.4" y1="172.15" x2="526.4" y2="172.15"/><line x1="67.55" y1="160.55" x2="73.55" y2="160.55"/><line x1="529.4" y1="160.55" x2="523.4" y2="160.55"/><line x1="67.55" y1="148.95" x2="70.55" y2="148.95"/><line x1="529.4" y1="148.95" x2="526.4" y2="148.95"/><line x1="67.55" y1="137.35" x2="70.55" y2="137.35"/><line x1="529.4" y1="137.35" x2="526.4" y2="137.35"/><line x1="67.55" y1="125.75" x2="70.55" y2="125.75"/><line x1="529.4" y1="125.75" x2="526.4" y2="125.75"/><line x1="67.55" y1="114.15" x2="73.55" y2="114.15"/><line x1="529.4" y1="114.15" x2="523.4" y2="114.15"/><line x1="67.55" y1="102.55" x2="70.55" y2="102.55"/><line x1="529.4" y1="102.55" x2="526.4" y2="102.55"/><line x1="67.55" y1="90.95" x2="70.55" y2="90.95"/><line x1="529.4" y1="90.95" x2="526.4" y2="90.95"/><line x1="67.55" y1="79.35" x2="70.55" y2="79.35"/><line x1="529.4" y1="79.35" x2="526.4" y2="79.35"/><line x1="67.55" y1="67.75" x2="73.55" y2="67.75"/><line x1="529.4" y1="67.75" x2="523.4" y2="67.75"/><line x1="67.55" y1="56.15" x2="70.55" y2="56.15"/><line x1="529.4" y1="56.15" x2="526.4" y2="56.15"/><line x1="67.55" y1="44.55" x2="70.55" y2="44.55"/><line x1="529.4" y1="44.55" x2="526.4" y2="44.55"/><line x1="67.55" y1="32.95" x2="70.55" y2="32.95"/><line x1="529.4" y1="32.95" x2="526.4" y2="32.95"/><line x1="67.55" y1="21.35" x2="73.55" y2="21.35"/><line x1="529.4" y1="21.35" x2="523.4" y2="21.35"/></g>
<rect x="67.55" y="9.75" width="461.85" height="243.60" fill="none" stroke="#000" stroke-width="1.35"/>
<text x="61.6" y="258.05" font-size="17.5" text-anchor="end">0.0</text>
<text x="61.6" y="211.65" font-size="17.5" text-anchor="end">0.2</text>
<text x="61.6" y="165.25" font-size="17.5" text-anchor="end">0.4</text>
<text x="61.6" y="118.85" font-size="17.5" text-anchor="end">0.6</text>
<text x="61.6" y="72.45" font-size="17.5" text-anchor="end">0.8</text>
<text x="61.6" y="26.05" font-size="17.5" text-anchor="end">1.0</text>
<text x="96.79" y="274.1" font-size="17.5" textLength="25.5" lengthAdjust="spacingAndGlyphs">400</text>
<text x="180.76" y="274.1" font-size="17.5" textLength="25.5" lengthAdjust="spacingAndGlyphs">500</text>
<text x="264.73" y="274.1" font-size="17.5" textLength="25.5" lengthAdjust="spacingAndGlyphs">600</text>
<text x="348.70" y="274.1" font-size="17.5" textLength="25.5" lengthAdjust="spacingAndGlyphs">700</text>
<text x="432.68" y="274.1" font-size="17.5" textLength="25.5" lengthAdjust="spacingAndGlyphs">800</text>
<text x="516.65" y="274.1" font-size="17.5" textLength="25.5" lengthAdjust="spacingAndGlyphs">900</text>
<text x="220.6" y="297.6" font-size="19.3" textLength="157" lengthAdjust="spacingAndGlyphs">Wavelength <tspan font-style="italic">λ</tspan> (nm)</text>
<text transform="translate(28.9,204.8) rotate(-90)" font-size="19.3" textLength="147" lengthAdjust="spacingAndGlyphs">Normalized Signal</text>
<line x1="405.1" y1="36.0" x2="437.1" y2="36.0" stroke="#5162b0" stroke-width="1.4"/>
<text transform="translate(441.3,39.7) scale(1.07,1)" font-size="16.8" font-style="italic" textLength="49.07">CR30F</text>
<line x1="405.1" y1="57.0" x2="437.1" y2="57.0" stroke="#a675cb" stroke-width="1.4"/>
<text transform="translate(441.3,60.4) scale(1.07,1)" font-size="16.8" font-style="italic" textLength="45.33">AA-03</text>
<line x1="405.1" y1="78.0" x2="437.1" y2="78.0" stroke="#df7290" stroke-width="1.4"/>
<text transform="translate(441.3,81.6) scale(1.07,1)" font-size="16.8" font-style="italic" textLength="41.68">F2000</text>
<line x1="405.1" y1="99.0" x2="437.1" y2="99.0" stroke="#f59555" stroke-width="1.4"/>
<text transform="translate(441.3,102.6) scale(1.07,1)" font-size="16.8" font-style="italic" textLength="64.67">RESTAN</text>
</svg></body></html>
